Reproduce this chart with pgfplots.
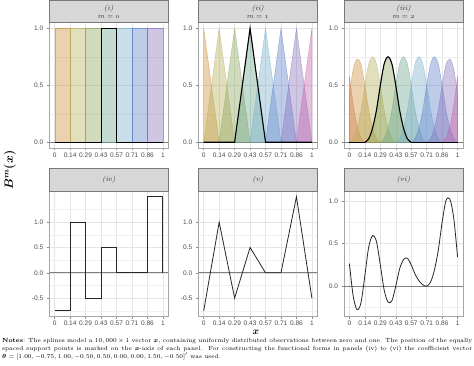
\documentclass[border=0pt]{standalone}
\usepackage{fontspec}
\usepackage{amsmath}
\usepackage{bm}
\usepackage{pgfplots}
\pgfplotsset{compat=1.18}
\newfontfamily\ticksans{Liberation Sans}

\definecolor{cA}{RGB}{205,110,80}
\definecolor{c1}{RGB}{200,135,45}
\definecolor{c2}{RGB}{180,170,80}
\definecolor{c3}{RGB}{130,160,80}
\definecolor{c4}{RGB}{100,160,135}
\definecolor{c5}{RGB}{110,170,200}
\definecolor{c6}{RGB}{85,120,200}
\definecolor{c7}{RGB}{125,105,180}
\definecolor{c8}{RGB}{195,90,165}
\definecolor{stripfill}{RGB}{215,215,215}
\definecolor{stripline}{RGB}{120,120,120}

\pgfplotsset{
  panel/.style={
    scale only axis, width=119bp, height=125.4bp,
    xmin=-0.05, xmax=1.05,
    xtick={0,0.142857,0.285714,0.428571,0.571429,0.714286,0.857143,1},
    xticklabels={0,0.14,0.29,0.43,0.57,0.71,0.86,1},
    tick pos=left, tick align=outside,
    major tick length=2.5bp, minor tick length=0pt,
    axis line style={draw=black!35, line width=0.6bp},
    tick style={black!45, line width=0.5bp},
    tick label style={font=\ticksans\fontsize{6.6}{7}\selectfont, text=black!70},
    xticklabel style={inner xsep=0pt, inner ysep=1pt, yshift=-1pt},
    xmajorgrids, ymajorgrids, yminorgrids,
    major grid style={draw=black!10, line width=0.5bp},
    minor grid style={draw=black!6, line width=0.3bp},
    clip=true,
  },
  toprow/.style={ymin=-0.05, ymax=1.05, ytick={0,0.5,1}, yticklabels={0.0,0.5,1.0}, minor ytick={0.25,0.75}},
  botrow/.style={ymin=-0.8625, ymax=1.6125, ytick={-0.5,0,0.5,1}, yticklabels={-0.5,0.0,0.5,1.0}, minor ytick={-0.75,-0.25,0.25,0.75,1.25}},
  basis/.style={fill=#1, fill opacity=0.38, draw=#1, draw opacity=0.6, line width=0.4bp},
  hl/.style={black, line width=1.1bp},
  zeroline/.style={black!50, line width=0.6bp},
}

\newcommand{\osz}{{\usefont{OML}{cmm}{m}{it}0}}
\newcommand{\oso}{{\usefont{OML}{cmm}{m}{it}1}}
\newcommand{\ost}{{\usefont{OML}{cmm}{m}{it}2}}

\begin{document}
\begin{tikzpicture}
\useasboundingbox (0,0) rectangle (474bp,366bp);

% ---------- (i) m = 0 ----------
\begin{axis}[panel, toprow, at={(49.3bp,218bp)}, anchor=south west]
\addplot[zeroline] coordinates {(-0.05,0)(1.05,0)};
\addplot[basis=c1] coordinates {(0,1)(0.142857,1)} \closedcycle;
\addplot[basis=c2] coordinates {(0.142857,1)(0.285714,1)} \closedcycle;
\addplot[basis=c3] coordinates {(0.285714,1)(0.428571,1)} \closedcycle;
\addplot[basis=c4] coordinates {(0.428571,1)(0.571429,1)} \closedcycle;
\addplot[basis=c5] coordinates {(0.571429,1)(0.714286,1)} \closedcycle;
\addplot[basis=c6] coordinates {(0.714286,1)(0.857143,1)} \closedcycle;
\addplot[basis=c7] coordinates {(0.857143,1)(1,1)} \closedcycle;
\addplot[hl] coordinates {(0,0)(0.428571,0)(0.428571,1)(0.571429,1)(0.571429,0)(1,0)};
\end{axis}

% ---------- (ii) m = 1 ----------
\begin{axis}[panel, toprow, at={(198.3bp,218bp)}, anchor=south west]
\addplot[zeroline] coordinates {(-0.05,0)(1.05,0)};
\addplot[basis=c1] coordinates {(0,1)(0.142857,0)} \closedcycle;
\addplot[basis=c2] coordinates {(0,0)(0.142857,1)(0.285714,0)} \closedcycle;
\addplot[basis=c3] coordinates {(0.142857,0)(0.285714,1)(0.428571,0)} \closedcycle;
\addplot[basis=c4] coordinates {(0.285714,0)(0.428571,1)(0.571429,0)} \closedcycle;
\addplot[basis=c5] coordinates {(0.428571,0)(0.571429,1)(0.714286,0)} \closedcycle;
\addplot[basis=c6] coordinates {(0.571429,0)(0.714286,1)(0.857143,0)} \closedcycle;
\addplot[basis=c7] coordinates {(0.714286,0)(0.857143,1)(1,0)} \closedcycle;
\addplot[basis=c8] coordinates {(0.857143,0)(1,1)} \closedcycle;
\addplot[hl] coordinates {(0,0)(0.285714,0)(0.428571,1)(0.571429,0)(1,0)};
\end{axis}

% ---------- (iii) m = 2 ----------
\begin{axis}[panel, toprow, at={(344bp,218bp)}, anchor=south west]
\addplot[zeroline] coordinates {(-0.05,0)(1.05,0)};
\addplot[basis=cA, smooth] coordinates {(0,0.58)(0.035714,0.32625)(0.071429,0.145)(0.107143,0.03625)(0.142857,0)} \closedcycle;
\addplot[basis=c1, smooth] coordinates {(0,0.42)(0.035714,0.6425)(0.071429,0.73)(0.107143,0.6825)(0.142857,0.5)(0.178571,0.28125)(0.214286,0.125)(0.25,0.03125)(0.285714,0)} \closedcycle;
\addplot[basis=c2, smooth] coordinates {(0,0)(0.035714,0.03125)(0.071429,0.125)(0.107143,0.28125)(0.142857,0.5)(0.178571,0.6875)(0.214286,0.75)(0.25,0.6875)(0.285714,0.5)(0.321429,0.28125)(0.357143,0.125)(0.392857,0.03125)(0.428571,0)} \closedcycle;
\addplot[basis=c3, smooth] coordinates {(0.142857,0)(0.178571,0.03125)(0.214286,0.125)(0.25,0.28125)(0.285714,0.5)(0.321429,0.6875)(0.357143,0.75)(0.392857,0.6875)(0.428571,0.5)(0.464286,0.28125)(0.5,0.125)(0.535714,0.03125)(0.571429,0)} \closedcycle;
\addplot[basis=c4, smooth] coordinates {(0.285714,0)(0.321429,0.03125)(0.357143,0.125)(0.392857,0.28125)(0.428571,0.5)(0.464286,0.6875)(0.5,0.75)(0.535714,0.6875)(0.571429,0.5)(0.607143,0.28125)(0.642857,0.125)(0.678571,0.03125)(0.714286,0)} \closedcycle;
\addplot[basis=c5, smooth] coordinates {(0.428571,0)(0.464286,0.03125)(0.5,0.125)(0.535714,0.28125)(0.571429,0.5)(0.607143,0.6875)(0.642857,0.75)(0.678571,0.6875)(0.714286,0.5)(0.75,0.28125)(0.785714,0.125)(0.821429,0.03125)(0.857143,0)} \closedcycle;
\addplot[basis=c6, smooth] coordinates {(0.571429,0)(0.607143,0.03125)(0.642857,0.125)(0.678571,0.28125)(0.714286,0.5)(0.75,0.6875)(0.785714,0.75)(0.821429,0.6875)(0.857143,0.5)(0.892857,0.28125)(0.928571,0.125)(0.964286,0.03125)(1,0)} \closedcycle;
\addplot[basis=c7, smooth] coordinates {(0.714286,0)(0.75,0.03125)(0.785714,0.125)(0.821429,0.28125)(0.857143,0.5)(0.892857,0.6825)(0.928571,0.73)(0.964286,0.6425)(1,0.42)} \closedcycle;
\addplot[basis=c8, smooth] coordinates {(0.857143,0)(0.892857,0.03625)(0.928571,0.145)(0.964286,0.32625)(1,0.58)} \closedcycle;
\addplot[hl] coordinates {(0,0)(0.142857,0)};
\addplot[hl, smooth] coordinates {(0.142857,0)(0.178571,0.03125)(0.214286,0.125)(0.25,0.28125)(0.285714,0.5)(0.321429,0.6875)(0.357143,0.75)(0.392857,0.6875)(0.428571,0.5)(0.464286,0.28125)(0.5,0.125)(0.535714,0.03125)(0.571429,0)};
\addplot[hl] coordinates {(0.571429,0)(1,0)};
\end{axis}

% ---------- (iv) ----------
\begin{axis}[panel, botrow, at={(49.3bp,49.5bp)}, anchor=south west]
\addplot[zeroline] coordinates {(-0.05,0)(1.05,0)};
\addplot[black!85, line width=0.8bp] coordinates {(0,-0.75)(0.142857,-0.75)(0.142857,1)(0.285714,1)(0.285714,-0.5)(0.428571,-0.5)(0.428571,0.5)(0.571429,0.5)(0.571429,0)(0.857143,0)(0.857143,1.5)(1,1.5)(1,0)};
\end{axis}

% ---------- (v) ----------
\begin{axis}[panel, botrow, at={(198.3bp,49.5bp)}, anchor=south west]
\addplot[zeroline] coordinates {(-0.05,0)(1.05,0)};
\addplot[black!85, line width=0.8bp] coordinates {(0,-0.75)(0.142857,1)(0.285714,-0.5)(0.428571,0.5)(0.571429,0)(0.714286,0)(0.857143,1.5)(1,-0.5)};
\end{axis}

% ---------- (vi) ----------
\begin{axis}[panel, at={(344bp,49.5bp)}, anchor=south west,
  ymin=-0.357, ymax=1.117, ytick={0,0.5,1}, yticklabels={0.0,0.5,1.0}, minor ytick={-0.25,0.25,0.75}]
\addplot[zeroline] coordinates {(-0.05,0)(1.05,0)};
\addplot[black!85, line width=0.8bp, smooth] coordinates {
(0,0.265)(0.035714,-0.124375)(0.071429,-0.2775)(0.107143,-0.194375)(0.142857,0.125)
(0.178571,0.4609)(0.214286,0.59375)(0.25,0.5234)(0.285714,0.25)
(0.321429,-0.046875)(0.357143,-0.1875)(0.392857,-0.171875)(0.428571,0)
(0.464286,0.203125)(0.5,0.3125)(0.535714,0.328125)(0.571429,0.25)
(0.607143,0.140625)(0.642857,0.0625)(0.678571,0.015625)(0.714286,0)
(0.75,0.046875)(0.785714,0.1875)(0.821429,0.421875)(0.857143,0.75)
(0.892857,1.005625)(0.928571,1.0225)(0.964286,0.800625)(1,0.34)};
\end{axis}

% ---------- strips ----------
\begin{scope}[every node/.style={align=center, text=black!80, font=\fontsize{7.2}{8}\selectfont\itshape}]
\draw[fill=stripfill, draw=stripline, line width=0.8bp] (49.3bp,343.4bp) rectangle (168.3bp,365.6bp);
\draw[fill=stripfill, draw=stripline, line width=0.8bp] (198.3bp,343.4bp) rectangle (317.3bp,365.6bp);
\draw[fill=stripfill, draw=stripline, line width=0.8bp] (344bp,343.4bp) rectangle (463bp,365.6bp);
\node at (108.8bp,354.5bp) {(i)\\$m=\;$\osz};
\node at (257.8bp,354.5bp) {(ii)\\$m=\;$\oso};
\node at (403.5bp,354.5bp) {(iii)\\$m=\;$\ost};
\draw[fill=stripfill, draw=stripline, line width=0.8bp] (49.3bp,174.9bp) rectangle (168.3bp,197.5bp);
\draw[fill=stripfill, draw=stripline, line width=0.8bp] (198.3bp,174.9bp) rectangle (317.3bp,197.5bp);
\draw[fill=stripfill, draw=stripline, line width=0.8bp] (344bp,174.9bp) rectangle (463bp,197.5bp);
\node at (108.8bp,186.2bp) {(iv)};
\node at (257.8bp,186.2bp) {(v)};
\node at (403.5bp,186.2bp) {(vi)};
\end{scope}

% ---------- axis titles ----------
\node[rotate=90] at (10bp,196bp) {\fontsize{12}{14}\selectfont$\bm{B^m(x)}$};
\node[inner sep=0pt] at (256bp,33.4bp) {\fontsize{10}{12}\selectfont$\bm{x}$};

% ---------- notes ----------
\node[anchor=north west, text width=470bp, align=justify, inner sep=0pt, font=\fontsize{6}{8.2}\selectfont] at (2bp,28.3bp)
{\textbf{Notes}: The splines model a $10,000\times 1$ vector $\bm{x}$, containing uniformly distributed observations between zero and one. The position of the equally\linebreak
spaced support points is marked on the $\bm{x}$-axis of each panel.\ \ For constructing the functional forms in panels (iv) to (vi) the coefficient vector\linebreak
$\bm{\theta}=[1.00,-0.75,1.00,-0.50,0.50,0.00,0.00,1.50,-0.50]'$ was used.};
\end{tikzpicture}
\end{document}
